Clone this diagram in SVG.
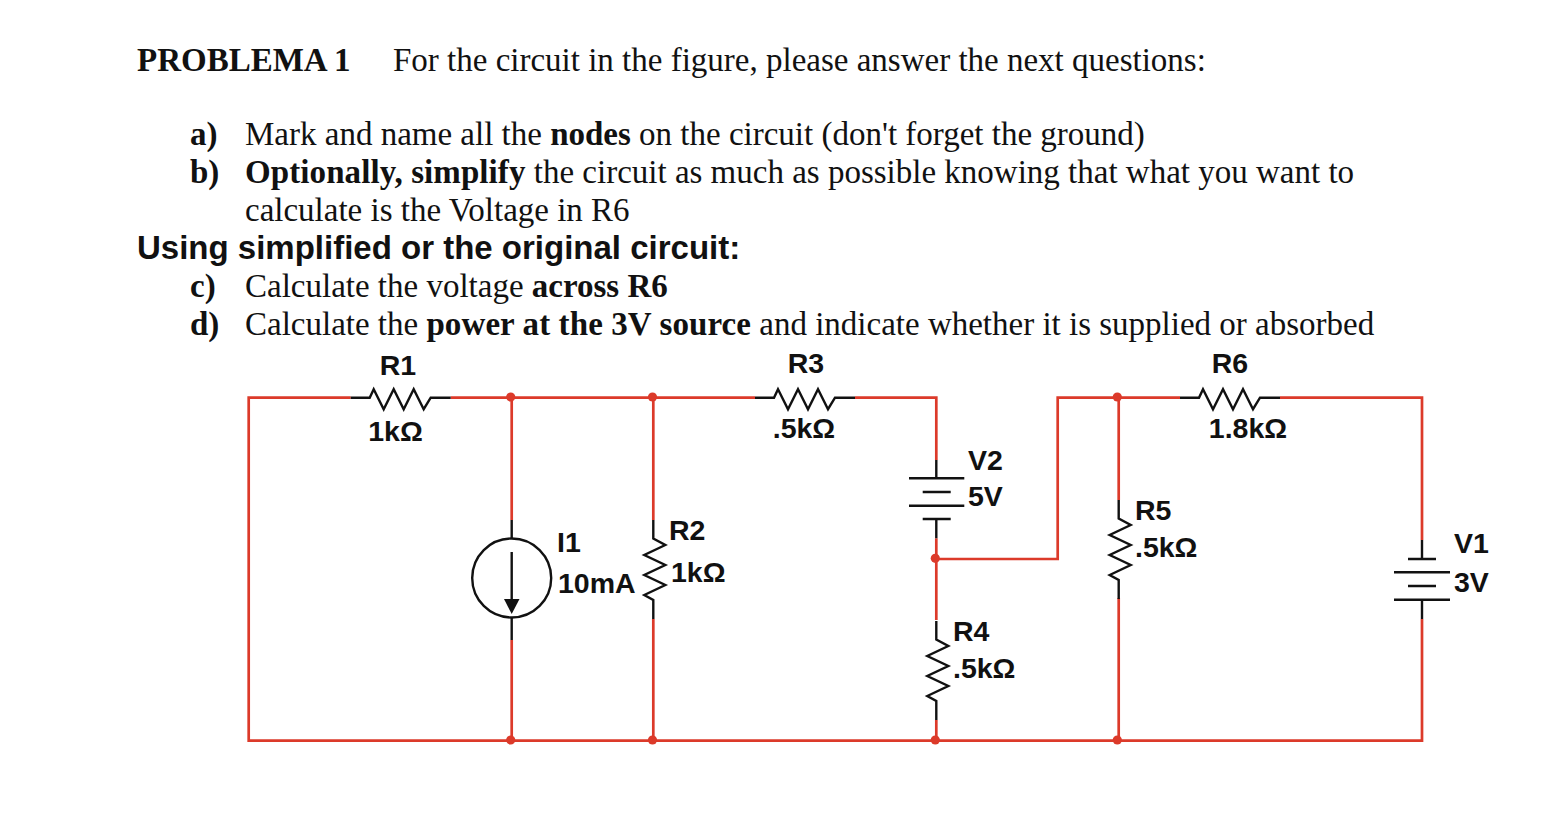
<svg xmlns="http://www.w3.org/2000/svg" width="1560" height="828" viewBox="0 0 1560 828">
<style>
.s{font-family:"Liberation Serif","Times New Roman",serif;font-size:33px;fill:#111}
.b{font-weight:bold}
.t{letter-spacing:.09px}
.l{font-family:"Liberation Sans",Arial,sans-serif;font-size:28.500px;font-weight:bold;fill:#111}
.h{font-family:"Liberation Sans",Arial,sans-serif;font-size:33px;font-weight:bold;fill:#111}
.w{fill:none;stroke:#dc3a2a;stroke-width:2.7}
.k{fill:none;stroke:#111;stroke-width:2.4}
.d{fill:#dc3a2a}
</style>
<defs>
<path id="rh" class="k" d="M0 0H19L23 -8.500L33 11.500L43 -8.500L53 11.500L63 -8.500L73 11.500L80 0H100"/>
<path id="rv" class="k" d="M0 0V18.500L12 25L-9 35L12 45L-9 55L12 65L-9 75L0 80V99"/>
<circle id="dot" class="d" r="4.600"/>
</defs>
<rect width="1560" height="828" fill="#fff"/>
<g id="text">
<text class="s b" x="137" y="71">PROBLEMA 1</text>
<text class="s" x="393" y="71">For the circuit in the figure, please answer the next questions:</text>
<text class="s b" x="190" y="145">a)</text>
<text class="s" x="245" y="145">Mark and name all the <tspan class="b">nodes</tspan> on the circuit (don't forget the ground)</text>
<text class="s b" x="190" y="183">b)</text>
<text class="s" x="245" y="183"><tspan class="b t">Optionally, simplify</tspan> the circuit as much as possible knowing that what you want to</text>
<text class="s" x="245" y="221">calculate is the Voltage in R6</text>
<text class="h" x="137" y="259">Using simplified or the original circuit:</text>
<text class="s b" x="190" y="297">c)</text>
<text class="s" x="245" y="297">Calculate the voltage <tspan class="b">across R6</tspan></text>
<text class="s b" x="190" y="335">d)</text>
<text class="s" x="245" y="335">Calculate the <tspan class="b t">power at the 3V source</tspan> and indicate whether it is supplied or absorbed</text>
</g>
<g id="connectors">
<path class="w" d="M350.700 397.700H248.700V740.700H1422V619"/>
<path class="w" d="M450.700 397.700H755"/>
<path class="w" d="M855 397.700H936.300V460"/>
<path class="w" d="M936.300 538.300V620"/>
<path class="w" d="M936.300 720V740.700"/>
<path class="w" d="M936.300 559H1057.700V397.700H1180"/>
<path class="w" d="M1280 397.700H1422V540"/>
<path class="w" d="M511.700 397.700V520"/>
<path class="w" d="M511.700 640V740.700"/>
<path class="w" d="M653.300 397.700V520"/>
<path class="w" d="M653.300 619V740.700"/>
<path class="w" d="M1118.700 397.700V500"/>
<path class="w" d="M1118.700 598V740.700"/>
<use href="#dot" x="510.700" y="397"/>
<use href="#dot" x="652.500" y="397"/>
<use href="#dot" x="510.700" y="740"/>
<use href="#dot" x="652.500" y="740"/>
<use href="#dot" x="935.300" y="558.300"/>
<use href="#dot" x="935.300" y="740"/>
<use href="#dot" x="1117.300" y="397"/>
<use href="#dot" x="1117.300" y="740"/>
</g>
<g id="R1"><use href="#rh" x="350.700" y="397.700"/><text class="l" x="398" y="375" text-anchor="middle">R1</text><text class="l" x="395.500" y="441" text-anchor="middle">1kΩ</text></g>
<g id="R3"><use href="#rh" x="755" y="397.700"/><text class="l" x="806" y="373" text-anchor="middle">R3</text><text class="l" x="804" y="438" text-anchor="middle">.5kΩ</text></g>
<g id="R6"><use href="#rh" x="1180" y="397.700"/><text class="l" x="1230" y="373" text-anchor="middle">R6</text><text class="l" x="1248" y="438" text-anchor="middle">1.8kΩ</text></g>
<g id="R2"><use href="#rv" x="653.300" y="520"/><text class="l" x="669" y="540">R2</text><text class="l" x="671" y="582">1kΩ</text></g>
<g id="R4"><use href="#rv" x="936.300" y="621"/><text class="l" x="953" y="641">R4</text><text class="l" x="953" y="678">.5kΩ</text></g>
<g id="R5"><use href="#rv" x="1118.700" y="500"/><text class="l" x="1135" y="520">R5</text><text class="l" x="1135" y="557">.5kΩ</text></g>
<g id="I1">
<path class="k" d="M511.700 520V538M511.700 618V640M511.700 552V600"/>
<circle class="k" cx="511.700" cy="578" r="39.500"/>
<path fill="#111" d="M504 599H519.500L511.700 614Z"/>
<text class="l" x="557" y="552">I1</text><text class="l" x="558" y="593">10mA</text>
</g>
<g id="V2">
<path class="k" d="M936.300 460V478.300M909 478.300H964.300M922.700 492H950.700M909 505.700H964.300M922.700 519H950.700M936.300 519V538.300"/>
<text class="l" x="968" y="470">V2</text><text class="l" x="968" y="506">5V</text>
</g>
<g id="V1">
<path class="k" d="M1422 540V559M1408 559H1436M1394 572.300H1450M1408 586H1436M1394 599.700H1450M1422 599.700V619"/>
<text class="l" x="1454" y="553">V1</text><text class="l" x="1454" y="592">3V</text>
</g>
</svg>
